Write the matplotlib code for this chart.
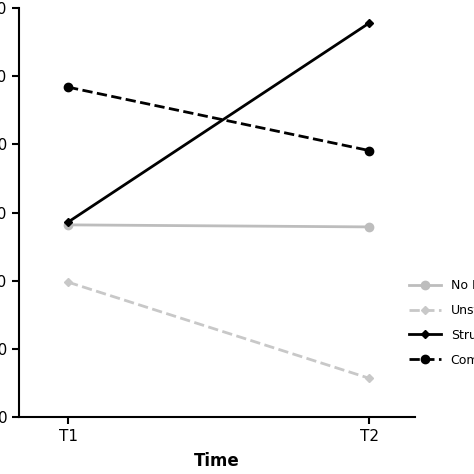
import matplotlib
matplotlib.use("Agg")
import matplotlib.pyplot as plt

times = ["T1", "T2"]
no_int = [28.2, 27.9]
unstructured = [19.8, 5.7]
structured = [28.6, 57.8]
combined = [48.4, 39.1]
labels = ["No Intervention", "Unstructured", "Structured", "Combined"]

fig = plt.figure(figsize=(4.74, 4.74), dpi=100)
ax = fig.add_axes([0.04, 0.12, 0.836, 0.863])
x = [1, 2]
styles = [
    (no_int, "#bdbdbd", "-", "o", 6),
    (unstructured, "#c8c8c8", "--", "D", 4),
    (structured, "black", "-", "D", 4),
    (combined, "black", "--", "o", 6),
]
handles = []
for (vals, c, ls, m, ms), lab in zip(styles, labels):
    h, = ax.plot(x, vals, color=c, ls=ls, marker=m, ms=ms, lw=2, label=lab)
    handles.append(h)
ax.set_xlim(0.837, 2.153)
ax.set_ylim(0, 60)
ax.set_xticks(x)
ax.set_xticklabels(times, fontsize=11)
ax.set_yticks(range(0, 61, 10))
ax.tick_params(labelsize=11, width=1.5, length=5)
for s in ["top", "right"]:
    ax.spines[s].set_visible(False)
for s in ["left", "bottom"]:
    ax.spines[s].set_linewidth(1.5)
ax.set_xlabel("Time", fontsize=12, fontweight="bold", labelpad=6)
fig.legend(handles=handles, labels=labels, loc="upper left",
           bbox_to_anchor=(0.84, 0.435), frameon=False, fontsize=9,
           handlelength=2.5, labelspacing=0.95)
fig.savefig("out.png", dpi=100)
